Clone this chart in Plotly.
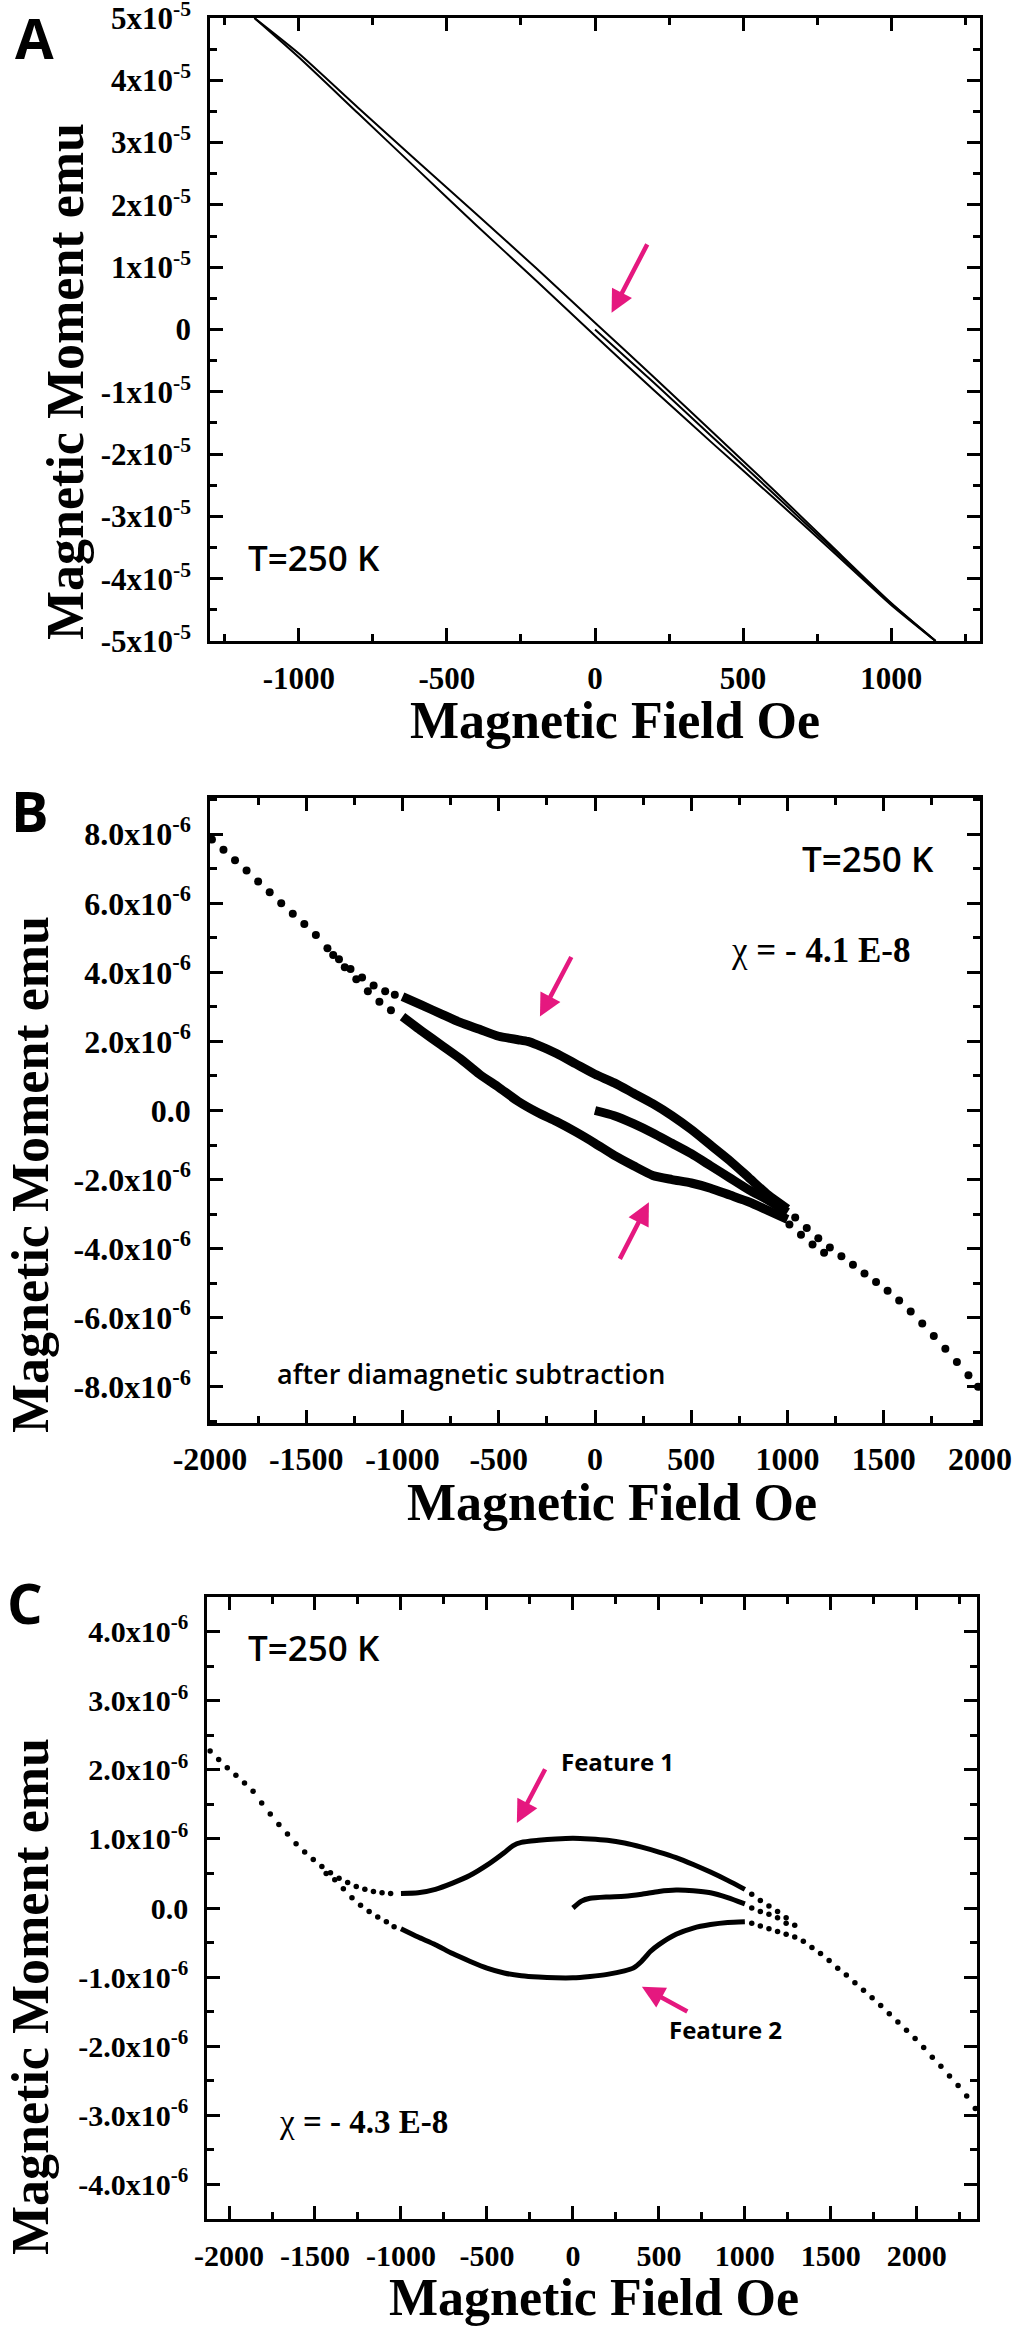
import plotly.graph_objects as go

W, H = 1020, 2328

# ---------------- DATA ----------------
# Panel A : raw M(H) loop, field in Oe, moment in emu
A_desc_H = [1150, 1000, 800, 600, 400, 200, 0, -200, -400, -600, -800, -1000, -1150]
A_desc_M = [-5.00e-5, -4.39e-5, -3.48e-5, -2.56e-5, -1.66e-5, -0.77e-5, 0.11e-5,
            0.99e-5, 1.85e-5, 2.70e-5, 3.56e-5, 4.43e-5, 5.00e-5]
A_asc_H = [-1150, -1000, -800, -600, -400, -200, 0, 200, 400, 600, 800, 1000, 1150]
A_asc_M = [5.00e-5, 4.37e-5, 3.47e-5, 2.57e-5, 1.67e-5, 0.79e-5, -0.10e-5,
           -0.98e-5, -1.84e-5, -2.69e-5, -3.55e-5, -4.42e-5, -5.00e-5]
A_virgin_H = [0, 200, 400, 600, 800, 1000, 1150]
A_virgin_M = [0.0, -0.86e-5, -1.74e-5, -2.62e-5, -3.51e-5, -4.40e-5, -5.00e-5]

# Panel B : after diamagnetic subtraction, moment in units of 1e-6 emu
B_desc_H = [1000, 900, 800, 700, 600, 500, 400, 300, 200, 100, 0, -100, -200, -300,
            -350, -400, -500, -600, -700, -800, -900, -1000]
B_desc_M = [-2.85, -2.45, -1.95, -1.45, -1.00, -0.55, -0.15, 0.20, 0.50, 0.80, 1.05, 1.35,
            1.65, 1.90, 2.00, 2.05, 2.15, 2.35, 2.55, 2.80, 3.05, 3.30]
B_asc_H = [-1000, -900, -800, -700, -600, -500, -400, -300, -200, -100, 0, 100, 200, 300,
           400, 500, 600, 700, 800, 900, 1000]
B_asc_M = [2.72, 2.30, 1.90, 1.50, 1.05, 0.67, 0.27, -0.05, -0.32, -0.62, -0.95, -1.30,
           -1.60, -1.88, -2.00, -2.10, -2.25, -2.45, -2.65, -2.90, -3.15]
B_virgin_H = [0, 100, 200, 300, 400, 500, 600, 700, 800, 900, 1000]
B_virgin_M = [0.00, -0.15, -0.38, -0.65, -0.95, -1.25, -1.60, -1.95, -2.30, -2.60, -2.95]
B_outL_H = [-1990, -1930, -1870, -1810, -1750, -1690, -1630, -1570, -1510, -1450, -1390,
            -1330, -1270, -1210, -1150, -1090, -1040]
B_outL_M = [7.85, 7.55, 7.25, 6.95, 6.63, 6.32, 6.00, 5.70, 5.40, 5.08, 4.70, 4.38, 4.10,
            3.85, 3.62, 3.45, 3.35]
B_outL2_H = [-1360, -1300, -1240, -1180, -1120, -1060]
B_outL2_M = [4.50, 4.15, 3.80, 3.45, 3.15, 2.90]
B_outR_H = [1040, 1100, 1160, 1220, 1280, 1340, 1400, 1460, 1520, 1580, 1640, 1700, 1760,
            1820, 1880, 1940, 1990]
B_outR_M = [-3.10, -3.40, -3.70, -3.97, -4.22, -4.47, -4.72, -4.97, -5.22, -5.50, -5.82,
            -6.17, -6.53, -6.90, -7.28, -7.67, -8.00]
B_outR2_H = [1010, 1070, 1130, 1190]
B_outR2_M = [-3.30, -3.60, -3.88, -4.12]

# Panel C : after subtraction with chi = -4.3E-8, moment in units of 1e-6 emu
C_desc_H = [1000, 900, 800, 700, 600, 500, 400, 300, 200, 100, 0, -100, -200, -300, -350,
            -400, -500, -600, -700, -800, -900, -1000]
C_desc_M = [0.27, 0.40, 0.52, 0.63, 0.73, 0.81, 0.88, 0.94, 0.98, 1.00, 1.01, 1.00, 0.98,
            0.95, 0.90, 0.80, 0.62, 0.47, 0.36, 0.27, 0.22, 0.21]
C_asc_H = [-1000, -900, -800, -700, -600, -500, -400, -300, -200, -100, 0, 100, 200, 300,
           350, 400, 450, 500, 600, 700, 800, 900, 1000]
C_asc_M = [-0.30, -0.42, -0.53, -0.66, -0.77, -0.87, -0.94, -0.98, -1.00, -1.01, -1.01,
           -0.99, -0.96, -0.91, -0.87, -0.77, -0.63, -0.53, -0.38, -0.29, -0.24, -0.21, -0.20]
C_virgin_H = [0, 50, 100, 200, 300, 400, 500, 600, 700, 800, 900, 1000]
C_virgin_M = [0.00, 0.10, 0.14, 0.16, 0.17, 0.20, 0.24, 0.26, 0.25, 0.22, 0.15, 0.06]
C_outL_H = [-2110, -2060, -2010, -1960, -1910, -1860, -1810, -1760, -1710, -1660, -1610,
            -1560, -1510, -1460]
C_outL_M = [2.27, 2.15, 2.03, 1.92, 1.81, 1.69, 1.52, 1.36, 1.21, 1.07, 0.93, 0.81, 0.70, 0.60]
C_outLup_H = [-1410, -1360, -1310, -1260, -1210, -1160, -1110, -1060]
C_outLup_M = [0.51, 0.43, 0.37, 0.31, 0.27, 0.24, 0.22, 0.21]
C_outLlo_H = [-1435, -1385, -1335, -1285, -1235, -1185, -1135, -1085, -1040]
C_outLlo_M = [0.50, 0.41, 0.28, 0.15, 0.04, -0.05, -0.13, -0.20, -0.27]
C_outRup_H = [1040, 1090, 1140, 1190, 1240, 1290]
C_outRup_M = [0.20, 0.11, 0.03, -0.05, -0.14, -0.25]
C_outRv_H = [1040, 1090, 1140, 1190, 1240]
C_outRv_M = [0.00, -0.05, -0.09, -0.14, -0.22]
C_outRlo_H = [1040, 1090, 1140, 1190, 1240, 1290]
C_outRlo_M = [-0.22, -0.26, -0.30, -0.34, -0.38, -0.42]
C_outR_H = [1340, 1390, 1440, 1490, 1540, 1590, 1640, 1690, 1740, 1790, 1840, 1890, 1940,
            1990, 2040, 2090, 2140, 2190, 2240, 2290, 2340]
C_outR_M = [-0.48, -0.57, -0.66, -0.76, -0.87, -0.97, -1.08, -1.19, -1.30, -1.41, -1.53,
            -1.65, -1.77, -1.89, -2.02, -2.16, -2.29, -2.43, -2.57, -2.72, -2.90]

# tick labels
A_xticks = [-1000, -500, 0, 500, 1000]
A_xticktext = ["-1000", "-500", "0", "500", "1000"]
BC_xticks = [-2000, -1500, -1000, -500, 0, 500, 1000, 1500, 2000]
BC_xticktext = ["-2000", "-1500", "-1000", "-500", "0", "500", "1000", "1500", "2000"]
A_yticks = [-5e-5, -4e-5, -3e-5, -2e-5, -1e-5, 0, 1e-5, 2e-5, 3e-5, 4e-5, 5e-5]
A_yticktext = ["-5x10<sup>-5</sup>", "-4x10<sup>-5</sup>", "-3x10<sup>-5</sup>",
               "-2x10<sup>-5</sup>", "-1x10<sup>-5</sup>", "0", "1x10<sup>-5</sup>",
               "2x10<sup>-5</sup>", "3x10<sup>-5</sup>", "4x10<sup>-5</sup>", "5x10<sup>-5</sup>"]
B_yticks = [-8e-6, -6e-6, -4e-6, -2e-6, 0, 2e-6, 4e-6, 6e-6, 8e-6]
B_yticktext = ["-8.0x10<sup>-6</sup>", "-6.0x10<sup>-6</sup>", "-4.0x10<sup>-6</sup>",
               "-2.0x10<sup>-6</sup>", "0.0", "2.0x10<sup>-6</sup>", "4.0x10<sup>-6</sup>",
               "6.0x10<sup>-6</sup>", "8.0x10<sup>-6</sup>"]
C_yticks = [-4e-6, -3e-6, -2e-6, -1e-6, 0, 1e-6, 2e-6, 3e-6, 4e-6]
C_yticktext = ["-4.0x10<sup>-6</sup>", "-3.0x10<sup>-6</sup>", "-2.0x10<sup>-6</sup>",
               "-1.0x10<sup>-6</sup>", "0.0", "1.0x10<sup>-6</sup>", "2.0x10<sup>-6</sup>",
               "3.0x10<sup>-6</sup>", "4.0x10<sup>-6</sup>"]

U6 = 1e-6  # unit of panels B and C

# ---------------- FIGURE ----------------
fig = go.Figure()


def scaled(vals, unit):
    return [v * unit for v in vals]


def add_line(x, y, xa, ya, width):
    fig.add_trace(go.Scatter(x=x, y=y, mode="lines", xaxis=xa, yaxis=ya,
                             line=dict(color="black", width=width, shape="spline", smoothing=0.6),
                             showlegend=False, hoverinfo="skip"))


def add_dots(x, y, xa, ya, size):
    fig.add_trace(go.Scatter(x=x, y=y, mode="markers", xaxis=xa, yaxis=ya,
                             marker=dict(color="black", size=size, line=dict(width=0)),
                             showlegend=False, hoverinfo="skip", cliponaxis=True))


# Panel A
add_line(A_desc_H, A_desc_M, "x", "y", 2)
add_line(A_asc_H, A_asc_M, "x", "y", 2)
add_line(A_virgin_H, A_virgin_M, "x", "y", 2)

# Panel B
for hx, my in [(B_outL_H, B_outL_M), (B_outL2_H, B_outL2_M), (B_outR_H, B_outR_M),
               (B_outR2_H, B_outR2_M)]:
    add_dots(hx, scaled(my, U6), "x2", "y2", 8)
for hx, my in [(B_desc_H, B_desc_M), (B_asc_H, B_asc_M), (B_virgin_H, B_virgin_M)]:
    add_line(hx, scaled(my, U6), "x2", "y2", 9)

# Panel C
for hx, my in [(C_outL_H, C_outL_M), (C_outLup_H, C_outLup_M), (C_outLlo_H, C_outLlo_M),
               (C_outRup_H, C_outRup_M), (C_outRv_H, C_outRv_M), (C_outRlo_H, C_outRlo_M),
               (C_outR_H, C_outR_M)]:
    add_dots(hx, scaled(my, U6), "x3", "y3", 5.5)
for hx, my in [(C_desc_H, C_desc_M), (C_asc_H, C_asc_M), (C_virgin_H, C_virgin_M)]:
    add_line(hx, scaled(my, U6), "x3", "y3", 5)

SERIF = "Liberation Serif"
SANS = "Open Sans"


def ax_style(size, rng, dom, anchor, minor_dtick, **kw):
    d = dict(range=rng, domain=dom, anchor=anchor, showline=True, linecolor="black",
             linewidth=2.5, mirror="ticks", ticks="inside", ticklen=13, tickwidth=2.5,
             tickcolor="black", showgrid=False, zeroline=False, ticklabeloverflow="allow",
             automargin=False,
             tickfont=dict(family=SERIF, size=size, color="black", weight="bold"),
             minor=dict(ticks="inside", ticklen=7, tickwidth=2.5, tickcolor="black",
                        tickmode="linear", tick0=0, dtick=minor_dtick, showgrid=False),
             fixedrange=True)
    d.update(kw)
    return d


def xd(a, b):
    return [a / W, b / W]


def yd(top, bottom):
    return [1 - bottom / H, 1 - top / H]


fig.update_layout(
    width=W, height=H, margin=dict(l=0, r=0, t=0, b=0, autoexpand=False),
    paper_bgcolor="white", plot_bgcolor="white",
    xaxis=ax_style(31, [-1300, 1300], xd(210, 980), "y", 250,
                   tickmode="array", tickvals=A_xticks, ticktext=A_xticktext, ticklabelstandoff=8),
    yaxis=ax_style(31, [-5e-5, 5e-5], yd(18, 641), "x", 0.5e-5,
                   tickmode="array", tickvals=A_yticks, ticktext=A_yticktext, ticklabelstandoff=10),
    xaxis2=ax_style(32, [-2000, 2000], xd(210, 980), "y2", 250,
                    tickmode="array", tickvals=BC_xticks, ticktext=BC_xticktext,
                    ticklabelstandoff=6),
    yaxis2=ax_style(32, [-9.05e-6, 9.05e-6], yd(798, 1423), "x2", 1e-6,
                    tickmode="array", tickvals=B_yticks, ticktext=B_yticktext, ticklabelstandoff=10),
    xaxis3=ax_style(30, [-2128, 2350], xd(207, 977), "y3", 250,
                    tickmode="array", tickvals=BC_xticks, ticktext=BC_xticktext,
                    ticklabelstandoff=8),
    yaxis3=ax_style(30, [-4.5e-6, 4.5e-6], yd(1597, 2219), "x3", 0.5e-6,
                    tickmode="array", tickvals=C_yticks, ticktext=C_yticktext, ticklabelstandoff=10),
)

ann = []


def txt(px, py, text, family, size, weight="bold", angle=0, yanchor="middle"):
    ann.append(dict(x=px / W, y=1 - py / H, xref="paper", yref="paper", text=text,
                    showarrow=False, xanchor="center", yanchor=yanchor, textangle=angle,
                    font=dict(family=family, size=size, color="black", weight=weight)))


# panel letters
txt(34, 37, "A", SANS, 56)
txt(30, 810, "B", SANS, 56)
txt(25, 1602, "C", SANS, 56)

# axis titles
for cx, cy in [(615, 720), (612, 1502), (594, 2297)]:
    txt(cx, cy, "Magnetic Field Oe", SERIF, 52)
for cx, cy in [(66, 382), (30, 1175), (31, 1997)]:
    txt(cx, cy, "Magnetic Moment emu", SERIF, 52, angle=-90)

# in-plot labels
CHI = '<span style="font-weight:normal">χ</span>'
txt(314, 557, "T=250 K", SANS, 35, weight=600)
txt(868, 858, "T=250 K", SANS, 35, weight=600)
txt(314, 1647, "T=250 K", SANS, 35, weight=600)
txt(471, 1373, "after diamagnetic subtraction", SANS, 27, weight=600)
txt(820, 950, CHI + " = - 4.1 E-8", SERIF, 35)
txt(363, 2122, CHI + " = - 4.3 E-8", SERIF, 33)
txt(617, 1761, "Feature 1", SANS, 24)
txt(725, 2029, "Feature 2", SANS, 24)

PINK = "#E5187F"
arrows = [("x", "y", 56, 0.267e-5, 179, 1.39e-5),
          ("x2", "y2", -286, 2.72e-6, -119, 4.49e-6),
          ("x2", "y2", 280, -2.66e-6, 125, -4.34e-6),
          ("x3", "y3", -326, 1.23e-6, -157, 2.03e-6),
          ("x3", "y3", 401, -1.14e-6, 674, -1.51e-6)]
for xr, yr, x0, y0, x1, y1 in arrows:
    ann.append(dict(x=x0, y=y0, ax=x1, ay=y1, xref=xr, yref=yr, axref=xr, ayref=yr,
                    text="", showarrow=True, arrowhead=2, arrowsize=1.0, arrowwidth=4.5,
                    arrowcolor=PINK))

fig.update_layout(annotations=ann)
fig.write_html("out.html")
